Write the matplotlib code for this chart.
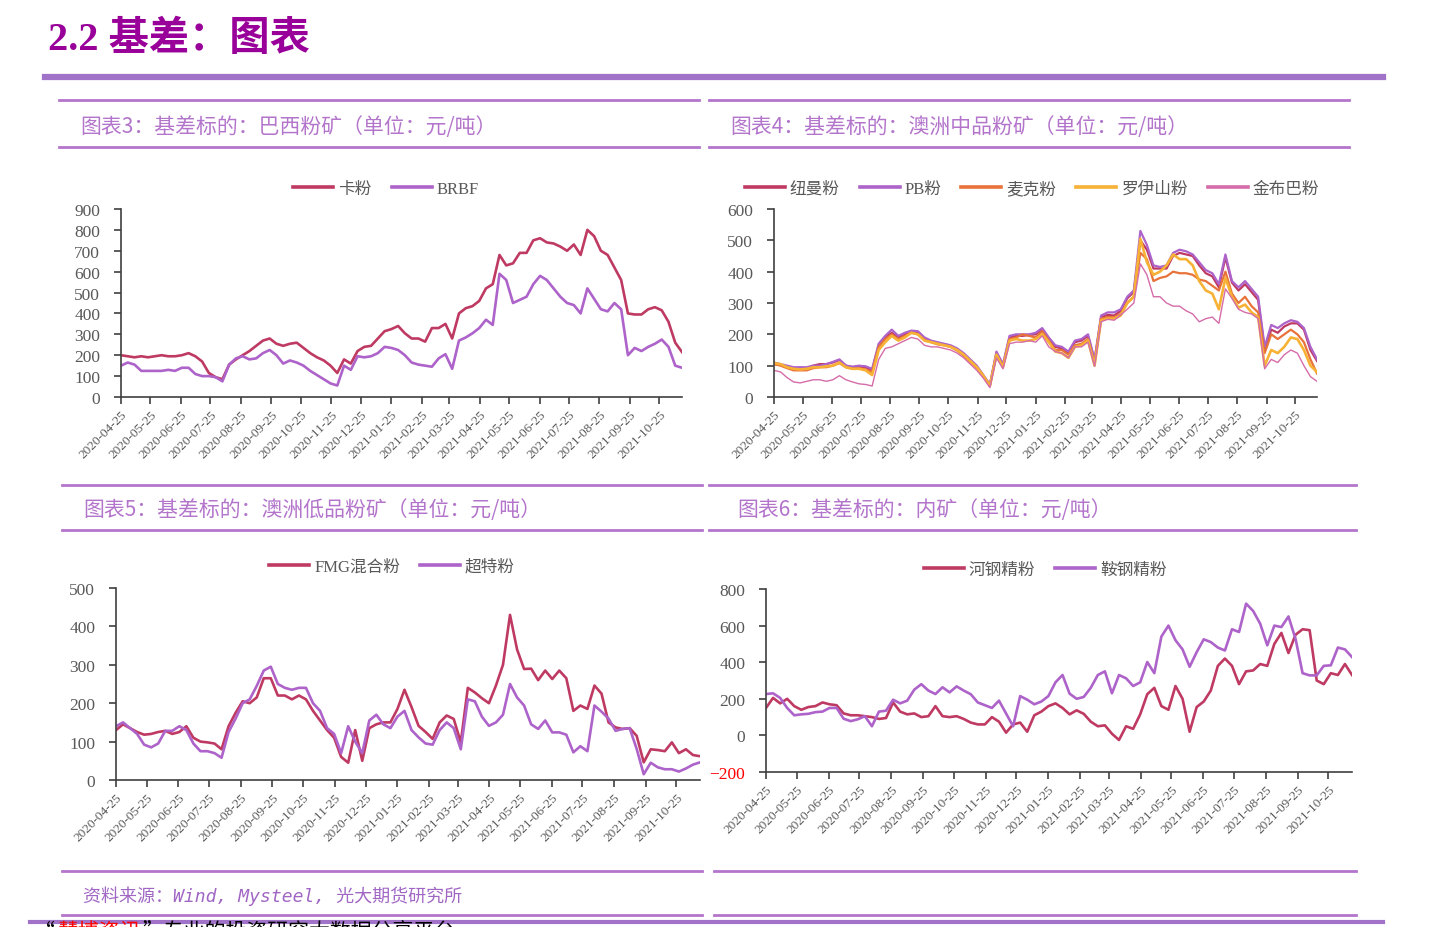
import pandas as pd
import matplotlib
matplotlib.use('Agg')
import matplotlib.pyplot as plt
import matplotlib.dates as mdates
from matplotlib.lines import Line2D

plt.rcParams['font.family'] = ['Liberation Serif', 'Noto Sans CJK SC']

W, H = 1440, 928

# ---------------- data (~weekly) ----------------
dates = pd.date_range('2020-04-25', '2021-11-17', periods=84)
tick_dates = pd.date_range('2020-04-25', '2021-10-25', freq=pd.DateOffset(months=1))

# 图表3 巴西粉矿
kafen = [200, 195, 190, 195, 190, 195, 200, 195, 195, 200,
         210, 195, 170, 115, 95, 85, 155, 180, 200, 220,
         245, 270, 280, 255, 245, 255, 260, 235, 210, 190,
         175, 150, 115, 180, 160, 220, 240, 245, 280, 315,
         325, 340, 305, 280, 280, 265, 330, 330, 350, 280,
         400, 425, 435, 460, 520, 540, 680, 630, 640, 690,
         690, 750, 760, 740, 735, 720, 700, 730, 680, 800,
         770, 700, 680, 620, 560, 400, 395, 395, 420, 430,
         415, 360, 260, 215]
brbf = [150, 165, 155, 125, 125, 125, 125, 130, 125, 140,
        140, 110, 100, 100, 95, 75, 155, 185, 195, 180,
        185, 210, 225, 200, 160, 175, 165, 150, 125, 105,
        85, 65, 55, 150, 130, 195, 190, 195, 210, 240,
        235, 225, 200, 165, 155, 150, 145, 185, 205, 135,
        270, 285, 305, 330, 370, 345, 590, 560, 450, 465,
        480, 540, 580, 560, 520, 480, 450, 440, 400, 520,
        470, 420, 410, 450, 420, 200, 235, 220, 240, 255,
        275, 240, 150, 140]

# 图表4 澳洲中品粉矿
niuman = [105, 102, 95, 90, 90, 92, 100, 105, 105, 110,
          118, 100, 95, 97, 95, 85, 165, 190, 205, 190,
          200, 210, 205, 185, 178, 170, 168, 162, 150, 135,
          115, 95, 68, 38, 140, 100, 190, 195, 195, 198,
          200, 215, 185, 160, 155, 140, 175, 180, 195, 115,
          255, 262, 260, 275, 315, 335, 500, 470, 410, 410,
          410, 450, 460, 455, 450, 420, 395, 385, 350, 445,
          365, 340, 360, 335, 310, 150, 215, 205, 225, 235,
          235, 215, 150, 115]
pb = [110, 105, 100, 95, 95, 95, 100, 100, 105, 112,
      120, 100, 97, 100, 98, 90, 170, 195, 215, 195,
      205, 212, 210, 190, 180, 175, 170, 165, 155, 140,
      120, 100, 70, 40, 145, 105, 195, 200, 200, 200,
      205, 220, 190, 165, 160, 145, 180, 185, 200, 120,
      260, 270, 270, 280, 320, 340, 530, 485, 420, 415,
      420, 460, 470, 465, 455, 430, 405, 395, 360, 455,
      370, 350, 370, 345, 320, 160, 230, 220, 235, 245,
      240, 220, 160, 120]
maike = [105, 100, 92, 85, 85, 85, 92, 95, 95, 100,
         108, 95, 90, 92, 88, 80, 160, 185, 200, 185,
         195, 205, 200, 182, 175, 168, 165, 160, 148, 132,
         112, 92, 66, 36, 135, 98, 185, 190, 200, 195,
         190, 210, 180, 150, 150, 135, 165, 170, 185, 108,
         250, 255, 255, 265, 300, 320, 460, 440, 370, 380,
         385, 400, 395, 395, 390, 375, 370, 355, 340, 400,
         330, 300, 320, 290, 270, 140, 200, 185, 200, 215,
         200, 175, 120, 75]
luoyi = [108, 105, 95, 90, 88, 90, 95, 95, 98, 100,
         110, 95, 90, 90, 85, 70, 150, 175, 195, 180,
         190, 205, 200, 180, 175, 170, 165, 160, 150, 135,
         115, 95, 68, 35, 135, 95, 180, 185, 180, 180,
         185, 200, 175, 145, 140, 125, 160, 165, 180, 100,
         245, 250, 250, 260, 300, 320, 505, 430, 390, 400,
         420, 455, 440, 440, 420, 370, 340, 330, 280, 380,
         320, 285, 295, 270, 255, 100, 150, 140, 160, 190,
         185, 150, 100, 80]
jinbuba = [85, 80, 62, 48, 45, 50, 55, 55, 50, 55,
           68, 55, 48, 42, 40, 35, 120, 155, 160, 170,
           180, 190, 185, 165, 160, 160, 155, 150, 140, 125,
           105, 85, 60, 30, 125, 90, 170, 175, 175, 180,
           175, 195, 160, 145, 140, 125, 160, 160, 175, 98,
           240, 248, 245, 262, 280, 300, 425, 390, 320, 320,
           300, 290, 290, 275, 265, 240, 250, 255, 235, 345,
           315, 280, 270, 265, 250, 90, 120, 110, 135, 150,
           140, 100, 65, 50]

# 图表5 澳洲低品粉矿
fmg = [130, 145, 135, 125, 118, 120, 125, 128, 120, 125,
       140, 110, 100, 98, 95, 80, 140, 175, 205, 200,
       215, 265, 265, 220, 220, 210, 220, 210, 180, 155,
       130, 110, 60, 45, 130, 50, 135, 145, 150, 150,
       185, 235, 190, 141, 125, 107, 150, 168, 159, 98,
       240, 228, 213, 200, 246, 300, 430, 340, 289, 290,
       260, 285, 263, 285, 265, 180, 194, 185, 246, 225,
       150, 137, 133, 135, 115, 46, 80, 78, 75, 98,
       70, 80, 65, 62]
chaote = [140, 150, 135, 120, 92, 85, 95, 128, 128, 140,
          130, 95, 75, 75, 70, 58, 125, 160, 200, 210,
          245, 285, 295, 250, 240, 235, 240, 240, 200, 180,
          135, 120, 70, 140, 100, 70, 155, 170, 145, 135,
          165, 180, 130, 111, 95, 92, 130, 150, 135, 80,
          210, 205, 165, 141, 150, 170, 250, 215, 194, 145,
          133, 155, 124, 124, 118, 72, 88, 75, 194, 178,
          160, 128, 133, 135, 81, 15, 45, 33, 28, 28,
          22, 30, 40, 46]

# 图表6 内矿
hegang = [150, 205, 175, 200, 160, 140, 155, 160, 180, 170,
          165, 120, 110, 110, 105, 100, 90, 95, 180, 130,
          115, 120, 100, 105, 160, 105, 100, 105, 90, 70,
          60, 60, 100, 75, 15, 60, 70, 20, 110, 130,
          160, 175, 150, 115, 137, 118, 75, 50, 55, 9,
          -25, 50, 36, 115, 225, 260, 160, 140, 270, 200,
          20, 155, 185, 245, 380, 420, 380, 280, 350, 355,
          390, 380, 500, 560, 450, 550, 580, 575, 300, 280,
          340, 330, 390, 330]
angang = [226, 230, 205, 150, 110, 115, 118, 127, 130, 150,
          150, 91, 78, 88, 105, 50, 130, 135, 195, 175,
          190, 250, 280, 245, 226, 263, 235, 268, 245, 225,
          180, 165, 150, 190, 120, 50, 215, 195, 170, 185,
          215, 290, 330, 228, 200, 210, 260, 330, 350, 230,
          330, 312, 270, 290, 401, 340, 540, 600, 520, 470,
          375, 455, 525, 510, 480, 464, 580, 565, 720, 680,
          610, 492, 600, 592, 650, 528, 340, 328, 328, 380,
          383, 480, 470, 428]

# colours
RED = '#BF3A62'
PURPLE = '#AD63C9'
ORANGE = '#E8733A'
YELLOW = '#F7B236'
PINK = '#D56CA9'
HEAD = '#B374CB'
GREY = '#595959'

fig = plt.figure(figsize=(W / 100, H / 100), dpi=100)


def hline(x0, x1, y, lw, color):
    fig.add_artist(Line2D([x0 / W, x1 / W], [1 - y / H, 1 - y / H],
                          transform=fig.transFigure, lw=lw, color=color))


def make_ax(x0, x1, ytop, ybot, ylim, yticks):
    ax = fig.add_axes([x0 / W, 1 - ybot / H, (x1 - x0) / W, (ybot - ytop) / H])
    ax.set_xlim(dates[0], dates[-1])
    ax.set_ylim(*ylim)
    ax.set_yticks(yticks)
    ax.set_xticks(tick_dates)
    ax.xaxis.set_major_formatter(mdates.DateFormatter('%Y-%m-%d'))
    for s in ['top', 'right']:
        ax.spines[s].set_visible(False)
    for s in ['left', 'bottom']:
        ax.spines[s].set_color('#404040')
        ax.spines[s].set_linewidth(1.2)
    ax.tick_params(axis='y', labelsize=12.5, labelcolor=GREY, length=5,
                   width=1.2, color='#404040', pad=10)
    ax.tick_params(axis='x', labelsize=9.5, labelcolor=GREY, length=5,
                   width=1.2, color='#404040', pad=3)
    plt.setp(ax.get_xticklabels(), rotation=45, ha='right',
             rotation_mode='anchor')
    return ax


def legend(ax, x, y):
    leg = ax.legend(loc='center', bbox_to_anchor=(x / W, 1 - y / H),
                    bbox_transform=fig.transFigure, ncol=5, frameon=False,
                    fontsize=12, handlelength=2.4, handletextpad=0.3,
                    columnspacing=1.2, borderpad=0)
    for t in leg.get_texts():
        t.set_color(GREY)
    for h in leg.get_lines():
        h.set_linewidth(2.6)


# ---------------- header ----------------
fig.text(48 / W, 1 - 40 / H, '2.2 基差：图表', fontsize=29, fontweight='bold',
         color='#990099', va='center')
hline(45, 1383, 78, 4.5, '#A073C8')

hline(59, 699, 101, 2, HEAD)
hline(59, 699, 148, 2, HEAD)
hline(709, 1349, 101, 2, HEAD)
hline(709, 1349, 148, 2, HEAD)
hline(62, 702, 486, 2, HEAD)
hline(62, 702, 531, 2, HEAD)
hline(709, 1356, 486, 2, HEAD)
hline(709, 1356, 531, 2, HEAD)
hline(62, 702, 872, 2, HEAD)
hline(62, 702, 916, 2, HEAD)
hline(714, 1356, 872, 2, HEAD)
hline(714, 1356, 916, 2, HEAD)

hfam = ['Noto Sans CJK SC', 'DejaVu Sans']
fig.text(80 / W, 1 - 127 / H, '图表3：基差标的：巴西粉矿（单位：元/吨）',
         fontsize=15, color=HEAD, va='center', family=hfam)
fig.text(730 / W, 1 - 127 / H, '图表4：基差标的：澳洲中品粉矿（单位：元/吨）',
         fontsize=15, color=HEAD, va='center', family=hfam)
fig.text(83 / W, 1 - 510 / H, '图表5：基差标的：澳洲低品粉矿（单位：元/吨）',
         fontsize=15, color=HEAD, va='center', family=hfam)
fig.text(737 / W, 1 - 510 / H, '图表6：基差标的：内矿（单位：元/吨）',
         fontsize=15, color=HEAD, va='center', family=hfam)
fig.text(83 / W, 1 - 896 / H, '资料来源：Wind, Mysteel, 光大期货研究所',
         fontsize=13, color='#A066C4', va='center', style='italic',
         family=['DejaVu Sans Mono', 'Noto Sans CJK SC'])

# line of text cut off at the very bottom, under the thick rule
fig.text(34 / W, 1 - 922 / H, '“', fontsize=15, color='black', va='top', family=hfam)
fig.text(58 / W, 1 - 922 / H, '慧博资讯', fontsize=15, color='red', va='top', family=hfam)
fig.text(142 / W, 1 - 922 / H, '”专业的投资研究大数据分享平台', fontsize=15,
         color='black', va='top', family=hfam)
hline(30, 1383, 923, 3, '#A073C8')

# ---------------- 图表3 ----------------
ax1 = make_ax(121, 682, 210, 398, (0, 900), range(0, 901, 100))
ax1.plot(dates, kafen, color=RED, lw=1.9, label='卡粉')
ax1.plot(dates, brbf, color=PURPLE, lw=1.9, label='BRBF')
legend(ax1, 386, 190)

# ---------------- 图表4 ----------------
ax2 = make_ax(774, 1317, 210, 398, (0, 600), range(0, 601, 100))
ax2.plot(dates, niuman, color=RED, lw=1.6, label='纽曼粉')
ax2.plot(dates, pb, color=PURPLE, lw=1.6, label='PB粉')
ax2.plot(dates, maike, color=ORANGE, lw=1.6, label='麦克粉')
ax2.plot(dates, luoyi, color=YELLOW, lw=1.9, label='罗伊山粉')
ax2.plot(dates, jinbuba, color=PINK, lw=1.0, label='金布巴粉')
legend(ax2, 1032, 190)

# ---------------- 图表5 ----------------
ax3 = make_ax(116, 700, 589, 781, (0, 500), range(0, 501, 100))
ax3.plot(dates, fmg, color=RED, lw=1.9, label='FMG混合粉')
ax3.plot(dates, chaote, color=PURPLE, lw=1.9, label='超特粉')
legend(ax3, 392, 568)

# ---------------- 图表6 ----------------
ax4 = make_ax(766, 1352, 590, 773, (-200, 800), range(-200, 801, 200))
ax4.plot(dates, hegang, color=RED, lw=1.9, label='河钢精粉')
ax4.plot(dates, angang, color=PURPLE, lw=1.9, label='鞍钢精粉')
ax4.get_yticklabels()[0].set_color('red')
legend(ax4, 1045, 571)

fig.savefig('out.png', dpi=100)
